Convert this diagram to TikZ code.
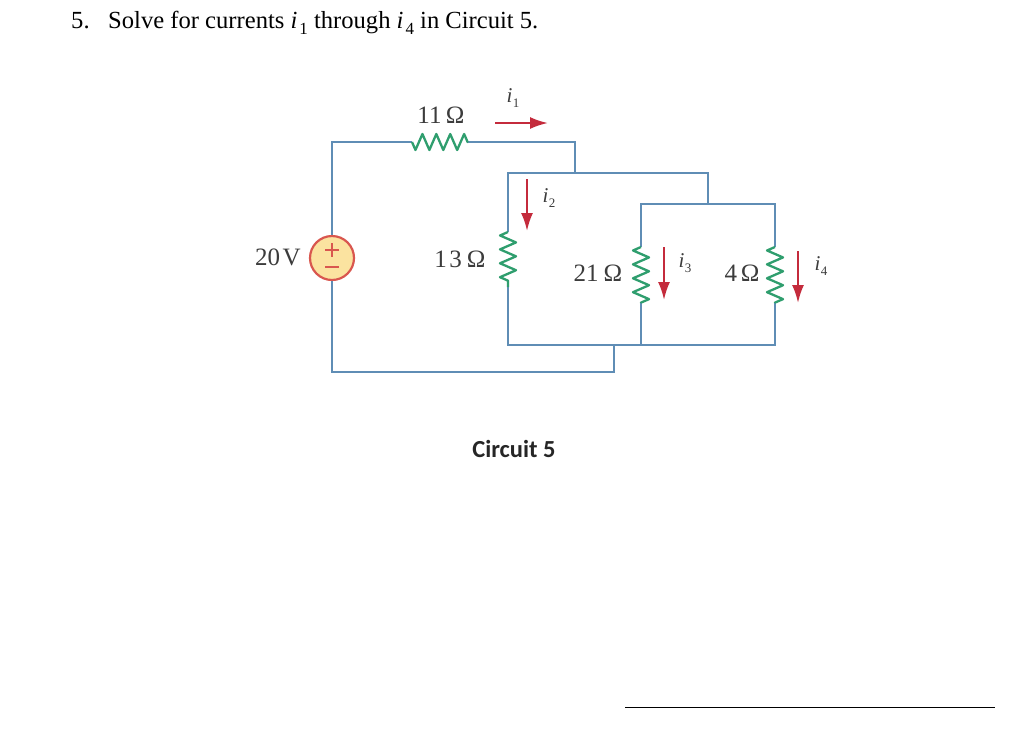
\documentclass[tikz,border=0pt]{standalone}
\usepackage{fontspec}
\setmainfont{Liberation Serif}
\newfontfamily\capfont{Carlito}
\usetikzlibrary{arrows.meta,decorations.pathmorphing}
\definecolor{wirec}{HTML}{5F8DB5}
\definecolor{resc}{HTML}{2F9E6E}
\definecolor{arrc}{HTML}{C42B3C}
\definecolor{srcf}{HTML}{FBE3A0}
\definecolor{srcd}{HTML}{D9574F}
\definecolor{labc}{HTML}{3C3C3C}
\newcommand{\curlab}[1]{\textit{i}\kern.02em\raisebox{-.22em}{\fontsize{13}{13}\selectfont #1}}
\newcommand{\headcur}[1]{\textit{i}\kern.08em\raisebox{-.25em}{\fontsize{17}{17}\selectfont #1}}
\tikzset{
  x=1pt,y=-1pt,
  wire/.style={draw=wirec,line width=2.2pt,line join=miter},
  resist/.style={draw=resc,line width=2.3pt,line join=round,decorate,decoration={zigzag,mirror,segment length=13.9pt,amplitude=8pt,pre length=0pt,post length=0pt}},
  curarrow/.style={draw=arrc,line width=2.2pt,-{Latex[length=18pt,width=12pt]}},
  lab/.style={font=\fontsize{25}{25}\selectfont,text=labc,inner sep=0pt},
  curr/.style={font=\fontsize{21}{21}\selectfont,text=labc,inner sep=0pt},
  headtext/.style={font=\fontsize{24.6}{24.6}\selectfont,text=black,inner sep=0pt,anchor=base west},
  signbar/.style={draw=srcd,line width=2.4pt},
}
\begin{document}
\begin{tikzpicture}
\useasboundingbox[fill=white] (0,0) rectangle (1024,732);
% header
\node[headtext] (num) at (71,28) {5.};
\node[headtext] (head) at (108,28) {Solve for currents \headcur{1} through \headcur{4} in Circuit 5.};
% source
\node[circle,draw=srcd,fill=srcf,line width=2.2pt,minimum size=44pt,inner sep=0pt] (src) at (332,258) {};
\coordinate (plusL) at (325,250); \coordinate (plusR) at (339,250);
\coordinate (plusT) at (332,243); \coordinate (plusB) at (332,257);
\coordinate (minusL) at (325,267); \coordinate (minusR) at (339,267);
\draw[signbar] (plusL) -- (plusR);
\draw[signbar] (plusT) -- (plusB);
\draw[signbar] (minusL) -- (minusR);
% corners
\coordinate (tl) at (332,142);
\coordinate (r1a) at (412,142);
\coordinate (r1b) at (468,142);
\coordinate (tr) at (575,142);
\coordinate (j1) at (575,173);
\coordinate (n2l) at (508,173);
\coordinate (n2r) at (708,173);
\coordinate (j2) at (708,204);
\coordinate (n3l) at (641,204);
\coordinate (n3r) at (775,204);
\coordinate (r2a) at (508,232);
\coordinate (r2b) at (508,287);
\coordinate (r3a) at (641,247);
\coordinate (r3b) at (641,303);
\coordinate (r4a) at (775,247);
\coordinate (r4b) at (775,303);
\coordinate (bl) at (508,345);
\coordinate (bm) at (641,345);
\coordinate (br) at (775,345);
\coordinate (j3) at (614,345);
\coordinate (bot2) at (614,372);
\coordinate (bot1) at (332,372);
% wires
\draw[wire] (src.north) -- (tl) -- (r1a);
\draw[wire] (r1b) -- (tr) -- (j1);
\draw[wire] (r2a) -- (n2l) -- (n2r) -- (j2);
\draw[wire] (r3a) -- (n3l) -- (n3r) -- (r4a);
\draw[wire] (r2b) -- (bl) -- (br) -- (r4b);
\draw[wire] (r3b) -- (bm);
\draw[wire] (j3) -- (bot2) -- (bot1) -- (src.south);
% resistors
\draw[resist] (r1a) -- (r1b);
\draw[resist] (r2a) -- (r2b);
\draw[resist] (r3a) -- (r3b);
\draw[resist] (r4a) -- (r4b);
% current arrows
\coordinate (a1s) at (495,123); \coordinate (a1e) at (548,123);
\coordinate (a2s) at (527,179); \coordinate (a2e) at (527,231);
\coordinate (a3s) at (664,247); \coordinate (a3e) at (664,300);
\coordinate (a4s) at (798,251); \coordinate (a4e) at (798,303);
\draw[curarrow] (a1s) -- (a1e);
\draw[curarrow] (a2s) -- (a2e);
\draw[curarrow] (a3s) -- (a3e);
\draw[curarrow] (a4s) -- (a4e);
% labels
\node[lab] (l11) at (441,115) {11\kern.18em Ω};
\node[lab] (l20) at (278,257) {20\kern.1em V};
\node[lab] (l13) at (460,259) {1\kern.1em3\kern.2em Ω};
\node[lab] (l21) at (598,273) {21\kern.2em Ω};
\node[lab] (l4) at (742,273) {4\kern.15em Ω};
\node[curr] (i1) at (513,98) {\curlab{1}};
\node[curr] (i2) at (549,198) {\curlab{2}};
\node[curr] (i3) at (685,263) {\curlab{3}};
\node[curr] (i4) at (821,266) {\curlab{4}};
\node[inner sep=0pt,font=\capfont\bfseries\fontsize{24.5}{24.5}\selectfont,text=black!85] (cap) at (514,449) {Circuit 5};
% answer line
\coordinate (ansl) at (625,707);
\coordinate (ansr) at (995,707);
\draw[black,line width=0.9pt] (ansl) -- (ansr);
\end{tikzpicture}
\end{document}
